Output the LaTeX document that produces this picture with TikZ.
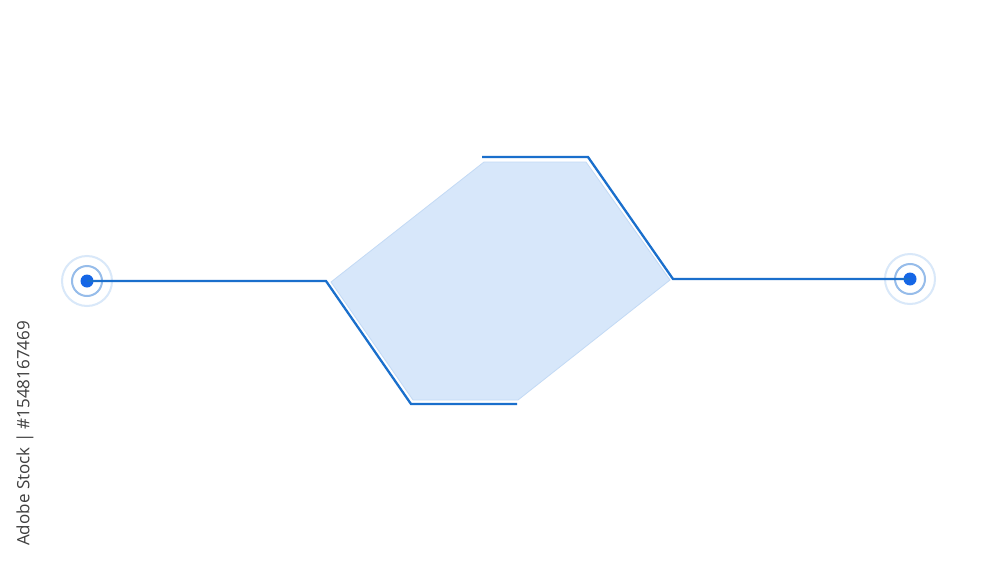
\documentclass[tikz,border=0pt]{standalone}
\usepackage{fontspec}
\newfontfamily\labelfont{Open Sans}
\definecolor{linec}{HTML}{1A6FCC}
\definecolor{dotc}{HTML}{1566E6}
\definecolor{ringc}{HTML}{96BCEA}
\definecolor{halo}{HTML}{D9E8F9}
\definecolor{fillc}{HTML}{D7E7FA}
\definecolor{filledge}{HTML}{C3DAF5}
\definecolor{txtc}{HTML}{3F3F3F}
\tikzset{
  conn/.style={draw=linec, line width=2.3pt, line join=miter},
  enddot/.style={circle, fill=dotc, minimum size=13pt, inner sep=0pt},
  ringin/.style={draw=ringc, line width=2pt},
  ringout/.style={draw=halo, line width=2pt},
  hexfill/.style={fill=fillc, draw=filledge, line width=0.8pt},
}
\begin{document}
\begin{tikzpicture}[x=1pt, y=-1pt]
\useasboundingbox (0,0) rectangle (1000,562);
\fill[white] (0,0) rectangle (1000,562);
% fill polygon
\path[hexfill] (331,282) -- (484,162) -- (586,162) -- (670,280) -- (518,400) -- (413,400) -- cycle;
% halos
\draw[ringout] (87,281) circle (25);
\draw[ringin] (87,281) circle (15);
\draw[ringout] (910,279) circle (25);
\draw[ringin] (910,279) circle (15);
% corner coordinates
\coordinate (a1) at (326,281);
\coordinate (a2) at (411,404);
\coordinate (a3) at (517,404);
\coordinate (b1) at (673,279);
\coordinate (b2) at (588,157);
\coordinate (b3) at (482,157);
% end dots
\node[enddot] (L) at (87,281) {};
\node[enddot] (R) at (910,279) {};
% connectors
\draw[conn] (L.center) -- (a1) -- (a2) -- (a3);
\draw[conn] (R.center) -- (b1) -- (b2) -- (b3);
% vertical label
\node[rotate=90, anchor=west, text=txtc, font=\labelfont\fontsize{17}{20}\selectfont, inner sep=0pt] (credit) at (25,546) {Adobe Stock | \#1548167469};
\end{tikzpicture}
\end{document}
